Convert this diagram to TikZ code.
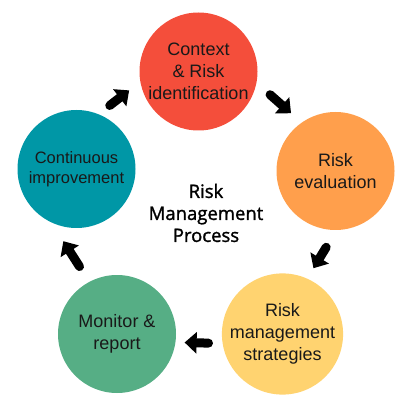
\documentclass[tikz,border=0pt]{standalone}
\usepackage{fontspec}
\setmainfont{Liberation Sans}
\newfontfamily\procfont{Open Sans}[BoldFont={Open Sans}, BoldFeatures={FakeBold=1.4}]
\usepackage{xcolor}
\usepackage{tikz}
\usetikzlibrary{arrows.meta}

\definecolor{ctxred}{HTML}{F44E3B}
\definecolor{evalorange}{HTML}{FF9F4C}
\definecolor{stratyellow}{HTML}{FFD370}
\definecolor{monitorgreen}{HTML}{56AE85}
\definecolor{improveteal}{HTML}{0097A6}

\begin{document}
\begin{tikzpicture}[
    x=1pt,y=1pt,
    stage/.style={circle, minimum size=118pt, inner sep=0pt, align=center,
                  font=\fontsize{18}{22}\selectfont, text=black!90},
    flow/.style={-{Triangle[width=21pt,length=12pt]}, line width=9pt, line cap=round}
]
\useasboundingbox (0,0) rectangle (409,407);

\node[stage, fill=ctxred] (ctx) at (198.5,335.5) {Context\\\& Risk\\identification};
\node[stage, fill=evalorange] (eval) at (335.5,236) {Risk\\evaluation};
\node[stage, fill=stratyellow] (strat) at (282.5,73) {Risk\\management\\strategies};
\node[stage, fill=monitorgreen] (monitor) at (117,73) {Monitor \&\\report};
\node[stage, fill=improveteal, font=\fontsize{16.5}{20}\selectfont] (improve) at (76.5,238)
  {Continuous\\improvement};

\node[font=\procfont\bfseries\fontsize{18.5}{22}\selectfont, align=center] (process) at (206,194)
  {Risk\\Management\\Process};

\draw[flow, shorten <=14pt, shorten >=14pt] (improve.68) -- (ctx.-170);
\draw[flow, shorten <=18pt, shorten >=14pt] (ctx.-11) -- (eval.125);
\draw[flow, shorten <=20pt, shorten >=12pt] (eval.-89) -- (strat.66);
\draw[flow, shorten <=14pt, shorten >=9pt] (strat.-171) -- (monitor.-8);
\draw[flow, shorten <=18pt, shorten >=22pt] (monitor.118) -- (improve.-115);
\end{tikzpicture}
\end{document}
